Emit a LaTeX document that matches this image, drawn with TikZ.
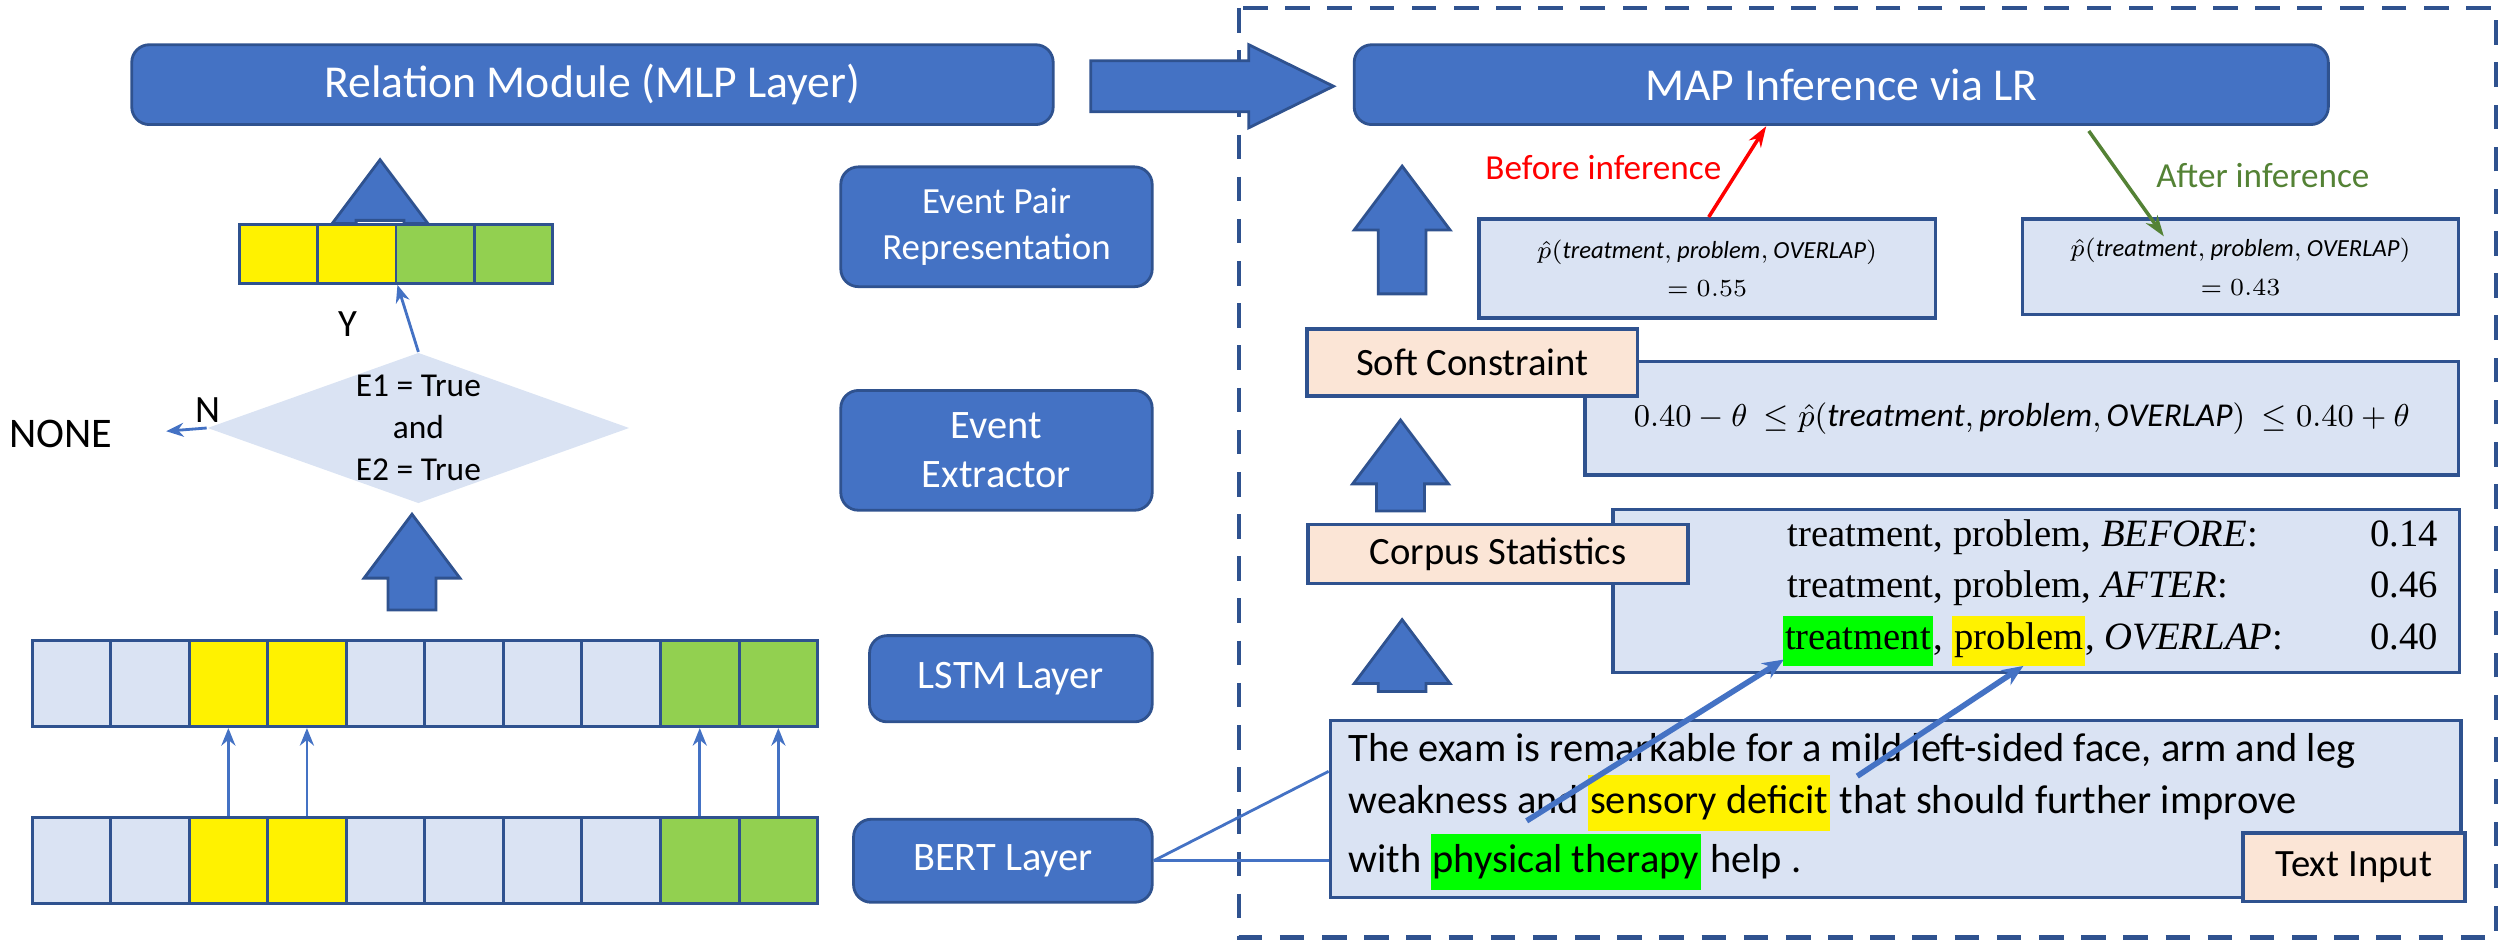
\documentclass[tikz,border=0pt]{standalone}
\usepackage{fontspec}
\setmainfont{Carlito}
\newfontfamily\serifx{Liberation Serif}
\usetikzlibrary{shapes.geometric,arrows.meta}
\definecolor{dblue}{HTML}{4472C4}
\definecolor{eblue}{HTML}{2F528F}
\definecolor{lblue}{HTML}{DAE3F3}
\definecolor{peach}{HTML}{FBE5D6}
\definecolor{ygreen}{HTML}{92D050}
\definecolor{hgreen}{HTML}{00FF00}
\definecolor{agreen}{HTML}{548235}
\tikzset{
 mod/.style={draw=eblue,fill=dblue,rounded corners=5pt,text=white,line width=0.8pt,align=center,inner sep=0pt},
 lbox/.style={draw=eblue,fill=lblue,line width=1pt,inner sep=0pt},
 pbox/.style={draw=eblue,fill=peach,line width=1pt,inner sep=0pt,font=\fontsize{11}{13}\selectfont},
 cell/.style={draw=eblue,line width=0.8pt,minimum width=49\un,minimum height=54\un,inner sep=0pt,fill=lblue},
 vcell/.style={draw=eblue,line width=0.8pt,minimum width=49\un,minimum height=37\un,inner sep=0pt},
 thin/.style={draw=dblue,line width=0.8pt,-{Stealth[length=5pt,width=4pt]}},
 block/.style={fill=dblue,draw=eblue,line width=0.8pt},
}
\newcommand{\un}{*0.1597mm}
\newcommand{\uparr}[3]{% x center, top y, bottom y
 \filldraw[block] (#1,#2) -- (#1+30,#2+40) -- (#1+15,#2+40) -- (#1+15,#3) -- (#1-15,#3) -- (#1-15,#2+40) -- (#1-30,#2+40) -- cycle;}
\setlength{\fboxsep}{0.6pt}
\begin{document}
\begin{tikzpicture}[x=0.1597mm,y=-0.1597mm]
\useasboundingbox (0,0) rectangle (1568,596);
% dashed frame
\draw[eblue,line width=1.2pt,dash pattern=on 7pt off 5pt] (776,5) rectangle (1563,587);
% top modules
\node[mod,minimum width=577\un,minimum height=50\un,font=\fontsize{13}{15}\selectfont] (rel) at (371,53) {Relation Module (MLP Layer)};
\node[mod,minimum width=610\un,minimum height=50\un,font=\fontsize{13}{15}\selectfont] (map) at (1153,53) {MAP Inference via LR};
\filldraw[block] (683,38) -- (782,38) -- (782,28) -- (835,54) -- (782,80) -- (782,70) -- (683,70) -- cycle;
% middle modules
\node[mod,minimum width=195\un,minimum height=75\un,font=\fontsize{10.5}{13}\selectfont] (epr) at (624,142) {Event Pair\\Representation};
\node[mod,minimum width=195\un,minimum height=75\un,font=\fontsize{11.5}{14}\selectfont] (ee) at (624,282) {Event\\Extractor};
\node[mod,minimum width=177\un,minimum height=54\un,font=\fontsize{11.5}{14}\selectfont] (lstm) at (633,425) {LSTM Layer};
\node[mod,minimum width=187\un,minimum height=52\un,font=\fontsize{11.5}{14}\selectfont] (bert) at (628,539) {BERT Layer};
% left column
\uparr{238}{100}{138}
\foreach \i/\c in {1/yellow,2/yellow,3/ygreen,4/ygreen}
  \node[vcell,fill=\c] (v\i) at (150+49*\i-24.5,159) {};
\node[diamond,fill=lblue,minimum width=260\un,minimum height=92\un,inner sep=0pt,aspect=2.8,align=center,font=\fontsize{9.5}{12}\selectfont] (dia) at (262,268) {E1 = True\\and\\E2 = True};
\draw[thin] (dia.north) -- (v2.south east);
\node[font=\fontsize{11}{13}\selectfont] at (218,203) {Y};
\coordinate (nn) at (104,270);
\draw[thin] (dia.west) -- (nn);
\node[font=\fontsize{11}{13}\selectfont] at (130,257) {N};
\node[font=\fontsize{12}{14}\selectfont] (none) at (38,272) {NONE};
\uparr{258}{322}{382}
\foreach \i in {1,...,10}{
  \ifnum\i=3 \def\c{yellow}\else\ifnum\i=4 \def\c{yellow}\else\ifnum\i>8 \def\c{ygreen}\else\def\c{lblue}\fi\fi\fi
  \node[cell,fill=\c] (l\i) at (20+49.2*\i-24.6,428) {};
  \node[cell,fill=\c] (b\i) at (20+49.2*\i-24.6,539) {};
}
\foreach \i in {3,4,9,10} \draw[thin] (b\i.north) -- (l\i.south);
% right column
\uparr{878}{104}{184}
\node[lbox,minimum width=286\un,minimum height=62\un,align=center,font=\fontsize{7}{11}\selectfont] (bef) at (1069,168) {$\hat{p}(\mathit{treatment},\mathit{problem},\mathit{OVERLAP})$\\$=0.55$};
\node[lbox,minimum width=273\un,minimum height=60\un,align=center,font=\fontsize{7}{11}\selectfont] (aft) at (1403,167) {$\hat{p}(\mathit{treatment},\mathit{problem},\mathit{OVERLAP})$\\$=0.43$};
\coordinate (bt) at (1106,79);
\coordinate (at) at (1308,82);
\draw[red,line width=1pt,-{Stealth[length=6pt,width=4pt]}] (bef.north) ++(1,0) -- (bt);
\draw[agreen,line width=1pt,-{Stealth[length=6pt,width=4pt]}] (at) -- (1355,148);
\node[red,font=\fontsize{10}{12}\selectfont] at (1004,105) {Before inference};
\node[agreen,font=\fontsize{10}{12}\selectfont] at (1417,110) {After inference};
\node[lbox,minimum width=547\un,minimum height=71\un,font=\fontsize{9.5}{12}\selectfont] (cons) at (1266,262) {$0.40-\theta\ \le\hat{p}(\mathit{treatment},\mathit{problem},\mathit{OVERLAP})\ \le 0.40+\theta$};
\node[pbox,minimum width=207\un,minimum height=42\un] (soft) at (922,227) {Soft Constraint};
\uparr{877}{263}{320}
\node[lbox,minimum width=530\un,minimum height=102\un] (stats) at (1275,370) {};
\node[pbox,minimum width=238\un,minimum height=37\un] (corp) at (938,347) {Corpus Statistics};
\begin{scope}[font=\serifx\fontsize{11}{13}\selectfont]
\node[anchor=base west,inner sep=0pt] at (1119,342) {treatment, problem, \textit{BEFORE}:};
\node[anchor=base west,inner sep=0pt] at (1119,374) {treatment, problem, \textit{AFTER}:};
\node[anchor=base west,inner sep=0pt] (ov) at (1116,407) {\colorbox{hgreen}{\strut treatment}, \colorbox{yellow}{\strut problem}, \textit{OVERLAP}:};
\node[anchor=base east,inner sep=0pt] at (1527,342) {0.14};
\node[anchor=base east,inner sep=0pt] at (1527,374) {0.46};
\node[anchor=base east,inner sep=0pt] at (1527,407) {0.40};
\end{scope}
\uparr{878}{388}{433}
\node[lbox,minimum width=708\un,minimum height=111\un,anchor=north west] (txt) at (832,450) {};
\node[anchor=north west,align=left,inner sep=0pt,font=\fontsize{11.5}{14.6}\selectfont] (tt) at (844,459) {The exam is remarkable for a mild left-sided face, arm and leg\\
weakness and \colorbox{yellow}{\strut sensory deficit} that should further improve\\
with \colorbox{hgreen}{\strut physical therapy} help .};
\node[pbox,minimum width=139\un,minimum height=43\un] (ti) at (1474,543) {Text Input};
\coordinate (t1) at (956,514); \coordinate (s1) at (1117,413);
\coordinate (t2) at (1163,486); \coordinate (s2) at (1267,417);
\draw[dblue,line width=1.6pt,-{Stealth[length=6pt,width=5pt]}] (t1) -- (s1);
\draw[dblue,line width=1.6pt,-{Stealth[length=6pt,width=5pt]}] (t2) -- (s2);
\draw[dblue,line width=0.8pt] (bert.east) -- (txt.west |- 0,483);
\draw[dblue,line width=0.8pt] (bert.east) -- (txt.west |- 0,539);
\end{tikzpicture}
\end{document}
